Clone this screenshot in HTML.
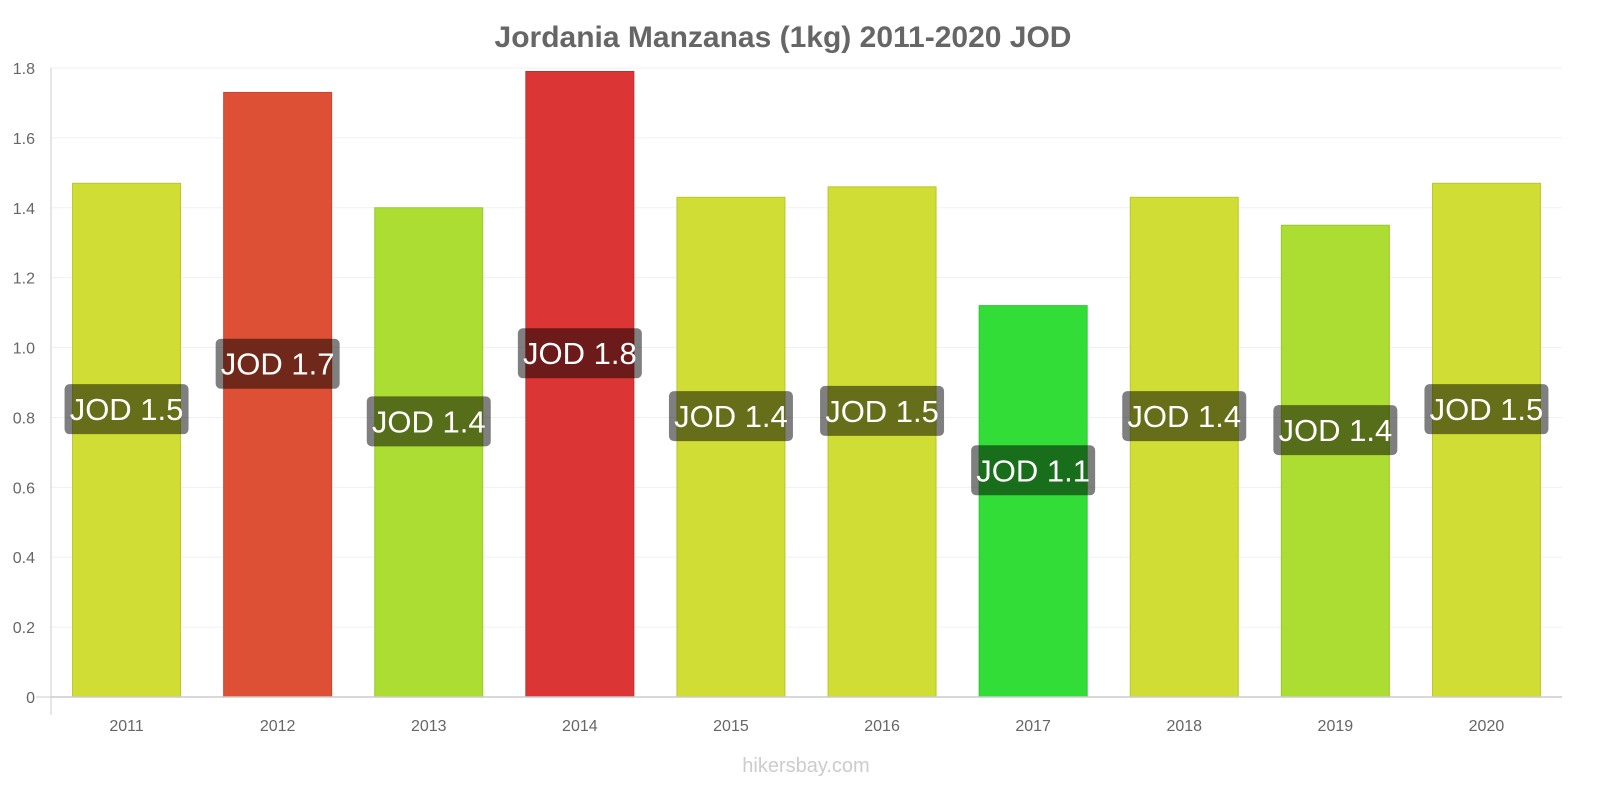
<!DOCTYPE html>
<html><head><meta charset="utf-8"><style>
html,body{margin:0;padding:0;background:#fff;overflow:hidden;width:1600px;height:800px;}
svg{display:block;font-family:"Liberation Sans",sans-serif;}
</style></head><body>
<svg id="chart" width="1600" height="800" viewBox="0 0 1600 800" xmlns="http://www.w3.org/2000/svg">
<text x="783" y="47" text-anchor="middle" font-size="30" font-weight="bold" fill="#666">Jordania Manzanas (1kg) 2011-2020 JOD</text>
<g id="grid"></g>
<g id="bars"></g>
<g id="yaxis"></g>
<g id="xaxis"></g>
<g id="labels"></g>
<text x="806" y="772" text-anchor="middle" font-size="20" fill="#ccc">hikersbay.com</text>
</svg>
<script>
const categories = ["2011","2012","2013","2014","2015","2016","2017","2018","2019","2020"];
const values = [1.47,1.73,1.40,1.79,1.43,1.46,1.12,1.43,1.35,1.47];
const valueLabels = ["JOD 1.5","JOD 1.7","JOD 1.4","JOD 1.8","JOD 1.4","JOD 1.5","JOD 1.1","JOD 1.4","JOD 1.4","JOD 1.5"];
const yTicks = [0,0.2,0.4,0.6,0.8,1.0,1.2,1.4,1.6,1.8];
const yTickLabels = ["0","0.2","0.4","0.6","0.8","1.0","1.2","1.4","1.6","1.8"];

const NS="http://www.w3.org/2000/svg";
const x0=51,x1=1562,y0=697,yTop=68,yMax=1.8;
const band=(x1-x0)/categories.length, barW=108;
function yScale(v){return y0-(v/yMax)*(y0-yTop);}
function xCenter(i){return x0+band*(i+0.5);}
function color(v){
  if(v>=1.75) return ["#db3535","#c42f2f"];
  if(v>=1.6) return ["#de5035","#c84630"];
  if(v>=1.42) return ["#cfdd35","#b9c72f"];
  if(v>=1.2) return ["#acdd33","#9ac72e"];
  return ["#33dd38","#2dc732"];
}
function mk(tag,attrs,parent,text){
  const e=document.createElementNS(NS,tag);
  for(const k in attrs) e.setAttribute(k,attrs[k]);
  if(text!==undefined) e.textContent=text;
  parent.appendChild(e);return e;
}
const grid=document.getElementById('grid'),bars=document.getElementById('bars'),
ya=document.getElementById('yaxis'),xa=document.getElementById('xaxis'),lb=document.getElementById('labels');

yTicks.forEach((t,i)=>{
  const y=yScale(t);
  if(t>0){const g=mk('line',{x1:x0,x2:x1,y1:y,y2:y,stroke:'#f0f0f0','stroke-width':1},grid);
  
  }
  const tx=mk('text',{x:35,y:y+6,'text-anchor':'end','font-size':16,fill:'#666'},ya,yTickLabels[i]);
  
  
});
const tk=mk('line',{x1:36,x2:x0,y1:y0,y2:y0,stroke:'#ccc','stroke-width':1},ya);


const axl=mk('line',{x1:x0,x2:x0,y1:yTop,y2:715,stroke:'#ccc','stroke-width':1},ya);


const bl=mk('line',{x1:x0,x2:x1,y1:y0,y2:y0,stroke:'#ccc','stroke-width':1.5},xa);



categories.forEach((c,i)=>{
  const v=values[i],cx=xCenter(i),yt=yScale(v),[f,s]=color(v);
  const r=mk('rect',{x:cx-barW/2,y:yt,width:barW,height:y0-yt,fill:f,stroke:s,'stroke-width':1},bars);
  
  
  const t=mk('text',{x:cx,y:731,'text-anchor':'middle','font-size':16,fill:'#666'},xa,c);
  
  
  const ly=(yt+y0)/2-31;
  const g=mk('g',{},lb);
  
  
  mk('rect',{x:cx-62,y:ly-25,width:124,height:50,rx:5,fill:'rgba(0,0,0,0.5)'},g);
  mk('text',{x:cx,y:ly+11,'text-anchor':'middle','font-size':31,fill:'#fff'},g,valueLabels[i]);
});
</script>
</body></html>
